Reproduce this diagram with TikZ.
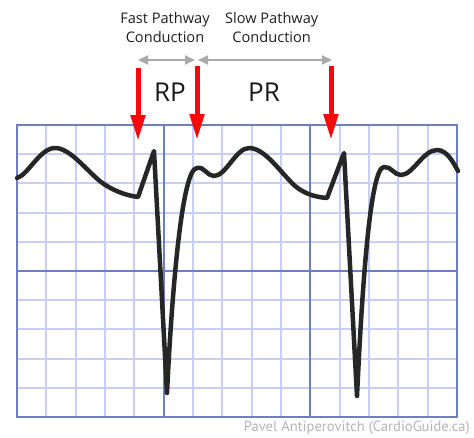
\documentclass[tikz,border=0pt]{standalone}
\usepackage{fontspec}
\setmainfont{Open Sans}
\newfontfamily\footfont{PT Sans}
\usetikzlibrary{arrows.meta}
\definecolor{minorc}{HTML}{C8CEF4}
\definecolor{majorc}{HTML}{6E7DC4}
\definecolor{tracec}{HTML}{262626}
\definecolor{arrred}{HTML}{F50A0A}
\definecolor{arrgray}{HTML}{A9A9A9}
\definecolor{footc}{HTML}{B4B4B4}
\tikzset{
  minorline/.style={draw=minorc, line width=2pt},
  majorline/.style={draw=majorc, line width=2pt},
  ecg/.style={draw=tracec, line width=4.5pt, line join=round, line cap=round},
  redarrow/.style={draw=arrred, line width=5pt, -{Triangle[length=26pt,width=14pt]}},
  grayarrow/.style={draw=arrgray, line width=2pt, {Triangle[length=10pt,width=9pt]}-{Triangle[length=10pt,width=9pt]}},
  toplabel/.style={font=\fontsize{14.6}{19.5}\selectfont, text=black!88, align=center, inner sep=0pt},
  biglabel/.style={font=\fontsize{26}{28}\selectfont, text=black!90, inner sep=0pt, anchor=base},
  footer/.style={font=\footfont\fontsize{14.6}{18}\selectfont, text=footc, inner sep=0pt, anchor=base east}
}
\begin{document}
\begin{tikzpicture}[x=1pt,y=-1pt]
\useasboundingbox (0,0) rectangle (474,437);
% grid
\foreach \i in {1,2,3,4,6,7,8,9,11,12,13,14}
  \draw[minorline] ({17+\i*29.333},125) -- ({17+\i*29.333},417);
\foreach \j in {1,2,3,4,6,7,8,9}
  \draw[minorline] (17,{125+\j*29.2}) -- (457,{125+\j*29.2});
\draw[majorline] (163.7,125) -- (163.7,417);
\draw[majorline] (310.3,125) -- (310.3,417);
\draw[majorline] (17,271) -- (457,271);
\draw[majorline] (17,125) rectangle (457,417);
% ECG trace
\draw[ecg] (17,178) .. controls (28,175) and (40,148) .. (55,148)
  .. controls (70,148) and (86,170) .. (101,182)
  .. controls (112,190) and (124,195) .. (138,197)
  -- (154,151) -- (167,393)
  .. controls (172,290) and (182,168) .. (197,168)
  .. controls (204,166) and (207,176) .. (214,176)
  .. controls (226,176) and (236,148) .. (249,148)
  .. controls (265,148) and (280,172) .. (295,186)
  .. controls (305,194) and (315,197) .. (327,198)
  -- (344,153) -- (357,396)
  .. controls (362,290) and (370,167) .. (384,167)
  .. controls (391,166) and (394,175) .. (401,175)
  .. controls (413,175) and (423,150) .. (437,150)
  .. controls (447,150) and (453,162) .. (458,171);
% red arrows
\coordinate (r1s) at (138,68);  \coordinate (r1e) at (138,141);
\coordinate (r2s) at (197,66);  \coordinate (r2e) at (197,140);
\coordinate (r3s) at (331,66);  \coordinate (r3e) at (331,140);
\draw[redarrow] (r1s) -- (r1e);
\draw[redarrow] (r2s) -- (r2e);
\draw[redarrow] (r3s) -- (r3e);
% gray arrows
\coordinate (g1a) at (138,60); \coordinate (g1b) at (195,60);
\coordinate (g2a) at (198,60); \coordinate (g2b) at (332,60);
\draw[grayarrow] (g1a) -- (g1b);
\draw[grayarrow] (g2a) -- (g2b);
% labels
\node[toplabel] (fast) at (165,27.5) {Fast Pathway\\Conduction};
\node[toplabel] (slow) at (271.7,27.5) {Slow Pathway\\Conduction};
\node[biglabel] (rp) at (170,101.5) {RP};
\node[biglabel] (pr) at (264,101.5) {PR};
\node[footer] (credit) at (470,431) {Pavel Antiperovitch (CardioGuide.ca)};
\end{tikzpicture}
\end{document}
